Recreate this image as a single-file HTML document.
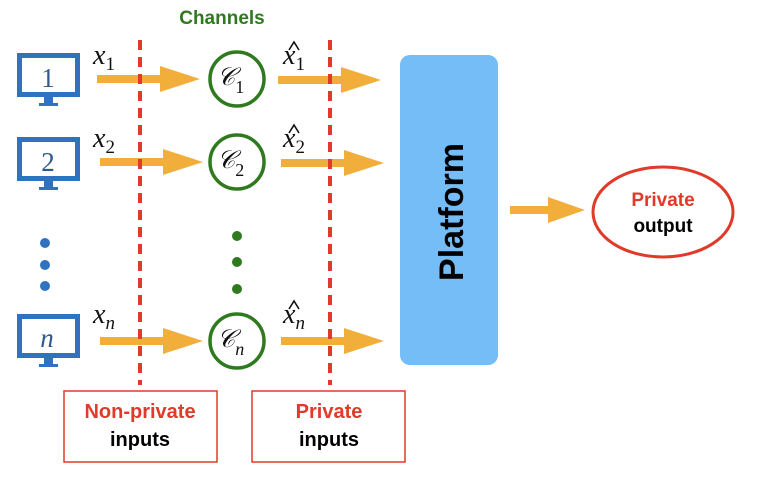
<!DOCTYPE html>
<html><head><style>body{margin:0;background:#fff}</style></head><body>
<svg width="759" height="481" xmlns="http://www.w3.org/2000/svg" font-family="Liberation Sans, sans-serif">
<defs>
<g id="mon">
<rect x="0" y="0" width="63" height="44" fill="#2f73c0"/>
<rect x="5" y="5" width="53" height="34" fill="#fff"/>
<rect x="27" y="44" width="9" height="7" fill="#2f73c0"/>
<rect x="22" y="50" width="19" height="3" fill="#2f73c0"/>
</g>
<g id="arr"><rect x="0" y="-4" width="65" height="8" fill="#f2ae3a"/><polygon points="63,-13 103,0 63,13" fill="#f2ae3a"/></g>
</defs>
<text x="222" y="24" fill="#2f7a1f" font-weight="bold" font-size="19" text-anchor="middle">Channels</text>
<use href="#mon" x="17" y="53"/><text x="48" y="87" font-family="Liberation Serif,serif" font-size="27" fill="#2f5a90" text-anchor="middle">1</text>
<use href="#mon" x="17" y="137"/><text x="48" y="171" font-family="Liberation Serif,serif" font-size="27" fill="#2f5a90" text-anchor="middle">2</text>
<use href="#mon" x="17" y="314"/><text x="47" y="347" font-family="Liberation Serif,serif" font-style="italic" font-size="27" fill="#2f5a90" text-anchor="middle">n</text>
<circle cx="45" cy="243" r="5" fill="#2f73c0"/><circle cx="45" cy="265" r="5" fill="#2f73c0"/><circle cx="45" cy="286" r="5" fill="#2f73c0"/>
<circle cx="237" cy="236" r="5" fill="#2f7a1f"/><circle cx="237" cy="262" r="5" fill="#2f7a1f"/><circle cx="237" cy="289" r="5" fill="#2f7a1f"/>
<use href="#arr" x="97" y="79"/><use href="#arr" x="100" y="162"/><use href="#arr" x="100" y="341"/>
<use href="#arr" x="278" y="80"/><use href="#arr" x="281" y="163"/><use href="#arr" x="281" y="341"/>
<g font-family="Liberation Serif,serif" font-style="italic" font-size="28" fill="#111">
<text x="93" y="64">x<tspan font-style="normal" font-size="19" dy="6">1</tspan></text>
<text x="93" y="147">x<tspan font-style="normal" font-size="19" dy="6">2</tspan></text>
<text x="93" y="323">x<tspan font-size="19" dy="6">n</tspan></text>
<text x="283" y="64">x<tspan font-style="normal" font-size="19" dy="6">1</tspan></text>
<text x="283" y="147">x<tspan font-style="normal" font-size="19" dy="6">2</tspan></text>
<text x="283" y="323">x<tspan font-size="19" dy="6">n</tspan></text>
</g>
<g fill="none" stroke="#111" stroke-width="1.6">
<polyline points="289,50 294,42 299,50"/><polyline points="289,133 294,125 299,133"/><polyline points="289,309 294,301 299,309"/>
</g>
<g fill="none" stroke="#2f7a1f" stroke-width="3.5">
<circle cx="237" cy="79" r="27"/><circle cx="237" cy="162" r="27"/><circle cx="237" cy="341" r="27"/>
</g>
<g font-family="Liberation Serif,serif" font-style="italic" font-size="25" fill="#111">
<text x="217" y="85">𝒞<tspan font-style="normal" font-size="18" dy="8">1</tspan></text>
<text x="217" y="168">𝒞<tspan font-style="normal" font-size="18" dy="8">2</tspan></text>
<text x="217" y="347">𝒞<tspan font-size="18" dy="8">n</tspan></text>
</g>
<g stroke="#e03a2a" stroke-width="4" stroke-dasharray="10,7">
<line x1="140" y1="40" x2="140" y2="385"/><line x1="330" y1="40" x2="330" y2="385"/>
</g>
<rect x="400" y="55" width="98" height="310" rx="10" fill="#74bdf7"/>
<text transform="translate(463,212) rotate(-90)" font-size="34" font-weight="bold" text-anchor="middle" fill="#000">Platform</text>
<g transform="translate(510,210)"><rect x="0" y="-4" width="40" height="8" fill="#f2ae3a"/><polygon points="38,-13 75,0 38,13" fill="#f2ae3a"/></g>
<ellipse cx="663" cy="212" rx="70" ry="45" fill="#fff" stroke="#e03a2a" stroke-width="3"/>
<text x="663" y="206" font-size="19" font-weight="bold" fill="#e03a2a" text-anchor="middle">Private</text>
<text x="663" y="232" font-size="19" font-weight="bold" fill="#000" text-anchor="middle">output</text>
<rect x="64" y="391" width="153" height="71" fill="#fff" stroke="#e03a2a" stroke-width="1.5"/>
<text x="140" y="418" font-size="20" font-weight="bold" fill="#e03a2a" text-anchor="middle">Non-private</text>
<text x="140" y="446" font-size="20" font-weight="bold" fill="#000" text-anchor="middle">inputs</text>
<rect x="252" y="391" width="153" height="71" fill="#fff" stroke="#e03a2a" stroke-width="1.5"/>
<text x="329" y="418" font-size="20" font-weight="bold" fill="#e03a2a" text-anchor="middle">Private</text>
<text x="329" y="446" font-size="20" font-weight="bold" fill="#000" text-anchor="middle">inputs</text>
</svg>
</body></html>
